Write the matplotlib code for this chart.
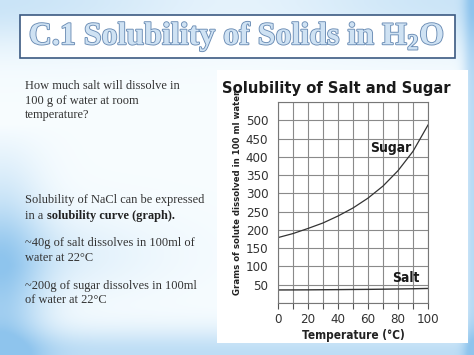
import numpy as np
import matplotlib
matplotlib.use("Agg")
import matplotlib.pyplot as plt
import matplotlib.patheffects as pe
from matplotlib.patches import Rectangle

# =======================
# Data
# =======================
temps = [0, 10, 20, 30, 40, 50, 60, 70, 80, 90, 100]
sugar = [179, 190, 204, 219, 238, 260, 287, 320, 362, 415, 487]
salt = [35.7, 35.8, 36.0, 36.3, 36.6, 37.0, 37.3, 37.8, 38.4, 39.0, 39.8]
y_ticks = [50, 100, 150, 200, 250, 300, 350, 400, 450, 500]
x_ticks = [0, 20, 40, 60, 80, 100]

notes = [
    ("How much salt will dissolve in", 86),
    ("100 g of water at room", 101),
    ("temperature?", 115),
    ("Solubility of NaCl can be expressed", 200),
    ("~40g of salt dissolves in 100ml of", 243),
    ("water at 22°C", 258),
    ("~200g of sugar dissolves in 100ml", 286),
    ("of water at 22°C", 300),
]

W, H = 474, 355
fig = plt.figure(figsize=(W / 100, H / 100), dpi=100)

# slide background (soft blue gradient)
bg = fig.add_axes([0, 0, 1, 1])
xx, yy = np.meshgrid(np.linspace(0, 1, 240), np.linspace(0, 1, 180))
light = np.array([0.97, 0.99, 1.0])
blue = np.array([0.56, 0.77, 0.93])
t = 0.45 * np.exp(-(yy / 0.13) ** 2) * (1 - 0.6 * np.exp(-((xx - 0.5) / 0.3) ** 2))
t += 0.55 * np.exp(-((yy - 1.0) / 0.07) ** 2)
t += 0.75 * np.exp(-(xx / 0.09) ** 2) * np.clip((yy - 0.35) / 0.4, 0, 1)
t += 0.3 * np.exp(-((yy - 0.72) / 0.12) ** 2) * np.exp(-(xx / 0.3) ** 2)
t += 0.6 * np.exp(-((xx - 1.0) / 0.02) ** 2)
t = np.clip(t, 0, 1)[..., None]
img = light * (1 - t) + blue * t
bg.imshow(img, extent=[0, W, H, 0], aspect="auto", interpolation="bilinear")
bg.set_xlim(0, W)
bg.set_ylim(H, 0)
bg.axis("off")

# title box
bg.add_patch(Rectangle((20, 15), 435, 43, facecolor="white", edgecolor="#3c5a82", lw=1.2))
plt.rcParams["mathtext.fontset"] = "custom"
plt.rcParams["mathtext.rm"] = "Liberation Serif:bold"
plt.rcParams["mathtext.bf"] = "Liberation Serif:bold"
bg.text(237, 37, r"C.1 Solubility of Solids in H$_{\mathbf{2}}$O", ha="center", va="center",
        fontsize=23, family="Liberation Serif", weight="bold", color="#cfe2f3",
        path_effects=[pe.withStroke(linewidth=1.3, foreground="#6b8db5")])

# left notes
fs = 8.9
for s, y in notes:
    bg.text(25, y, s, fontsize=fs, family="Liberation Serif", color="#333333", va="center")
t1 = bg.text(25, 216, "in a", fontsize=fs, family="Liberation Serif", color="#333333", va="center")
bg.annotate("solubility curve (graph).", xy=(1, 0.5), xycoords=t1, xytext=(2.5, 0),
            textcoords="offset points", va="center", ha="left", fontsize=fs,
            family="Liberation Serif", weight="bold", color="#222222")

# white panel behind the chart
bg.add_patch(Rectangle((217, 70), 251, 273, facecolor="white", edgecolor="none"))

cond = "DejaVu Sans"
st = "condensed"
bg.text(336, 88, "Solubility of Salt and Sugar", ha="center", va="center",
        fontsize=11.8, weight="bold", family=cond, stretch=st, color="#1a1a1a")

# chart
ax = fig.add_axes([278 / W, 1 - 303 / H, 150 / W, 201 / H])
ax.plot(temps, sugar, color="#333333", lw=0.9)
ax.plot(temps, salt, color="#333333", lw=1.0)
ax.set_xlim(0, 100)
ax.set_ylim(0, 550)
ax.set_xticks(range(0, 101, 10))
ax.set_xticklabels([str(v) if v in x_ticks else "" for v in range(0, 101, 10)])
ax.set_yticks(range(0, 551, 50))
ax.set_yticklabels([str(v) if v in y_ticks else "" for v in range(0, 551, 50)])
ax.grid(True, color="#8a8a8a", lw=0.8)
ax.tick_params(axis="x", length=4, color="#555555", labelsize=9.5, pad=3, labelcolor="#333333")
ax.tick_params(axis="y", length=0, labelsize=9.5, pad=7, labelcolor="#333333")
for lab in ax.get_xticklabels() + ax.get_yticklabels():
    lab.set_family(cond)
    lab.set_stretch(st)
for s in ax.spines.values():
    s.set_color("#777777")
    s.set_linewidth(0.8)

ax.text(75, 425, "Sugar", ha="center", va="center", fontsize=10, weight="bold",
        family=cond, stretch=st, color="#1a1a1a")
ax.text(85, 68, "Salt", ha="center", va="center", fontsize=10, weight="bold",
        family=cond, stretch=st, color="#1a1a1a")

bg.text(353, 335, "Temperature (°C)", ha="center", va="center", fontsize=8.5, weight="bold",
        family=cond, stretch=st, color="#222222")
bg.text(238, 193, "Grams of solute dissolved in 100 ml water", ha="center", va="center",
        rotation=90, fontsize=6.8, weight="bold", family=cond, stretch=st, color="#222222")

fig.savefig("out.png", dpi=100)
